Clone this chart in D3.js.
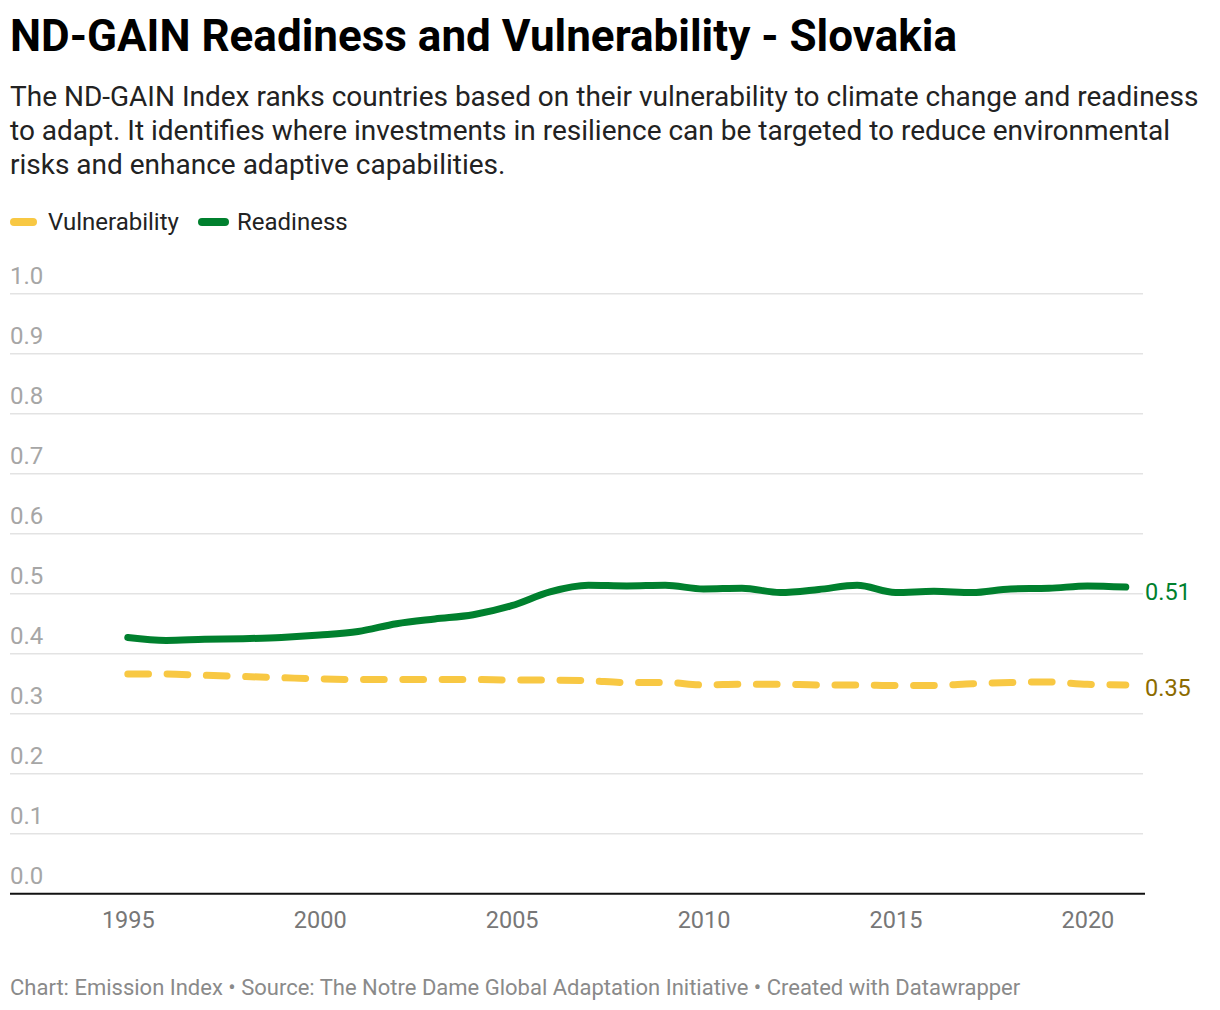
<!DOCTYPE html>
<html>
<head>
<meta charset="utf-8">
<script src="https://cdn.jsdelivr.net/npm/d3@7"></script>
<style>
  html, body { margin: 0; padding: 0; background: #fff; }
  svg { display: block; font-family: Roboto, "Noto Sans", sans-serif; }
</style>
</head>
<body>
<svg id="chart" width="1220" height="1010"></svg>
<script>
const years = [1995,1996,1997,1998,1999,2000,2001,2002,2003,2004,2005,2006,2007,2008,2009,2010,2011,2012,2013,2014,2015,2016,2017,2018,2019,2020,2021];
const readiness = [0.427,0.422,0.424,0.425,0.427,0.431,0.437,0.450,0.458,0.465,0.480,0.503,0.514,0.513,0.514,0.508,0.509,0.502,0.507,0.514,0.502,0.504,0.502,0.508,0.509,0.513,0.511];
const vulnerability = [0.366,0.366,0.364,0.362,0.360,0.358,0.357,0.357,0.357,0.357,0.356,0.356,0.355,0.352,0.352,0.348,0.349,0.349,0.348,0.348,0.347,0.347,0.350,0.352,0.353,0.349,0.348];
const yTicks = [0,0.1,0.2,0.3,0.4,0.5,0.6,0.7,0.8,0.9,1.0];
const xTicks = [1995,2000,2005,2010,2015,2020];
const seriesNames = ["Vulnerability","Readiness"];
const title = "ND-GAIN Readiness and Vulnerability - Slovakia";
const subtitleLines = [
  "The ND-GAIN Index ranks countries based on their vulnerability to climate change and readiness",
  "to adapt. It identifies where investments in resilience can be targeted to reduce environmental",
  "risks and enhance adaptive capabilities."
];
const footer = "Chart: Emission Index \u2022 Source: The Notre Dame Global Adaptation Initiative \u2022 Created with Datawrapper";

const GREEN = "#00802e", YELLOW = "#f8c843", YELLOW_TXT = "#8c6b00";
const svg = d3.select("#chart");

// Title & subtitle
svg.append("text").attr("x", 10).attr("y", 51)
  .attr("font-size", 44).attr("font-weight", 700).attr("fill", "#000").text(title);
svg.append("g").selectAll("text").data(subtitleLines).join("text")
  .attr("x", 10).attr("y", (d, i) => 106 + i * 34)
  .attr("font-size", 28).attr("fill", "#222").text(d => d);

// Legend
const legend = svg.append("g");
const legendItems = [
  {name: seriesNames[0], color: YELLOW, x: 10, w: 27, tx: 48},
  {name: seriesNames[1], color: GREEN, x: 198, w: 31, tx: 237}
];
legendItems.forEach(it => {
  legend.append("line").attr("x1", it.x + 4).attr("x2", it.x + it.w - 4)
    .attr("y1", 222).attr("y2", 222).attr("stroke", it.color)
    .attr("stroke-width", 8).attr("stroke-linecap", "round");
  legend.append("text").attr("x", it.tx).attr("y", 230)
    .attr("font-size", 24).attr("fill", "#222").text(it.name);
});

// Scales
const x = d3.scaleLinear().domain([1995, 2021]).range([127.8, 1125.8]);
const y = d3.scaleLinear().domain([0, 1]).range([893.7, 293.7]);

// Grid
const grid = svg.append("g");
grid.selectAll("line").data(yTicks.filter(d => d > 0)).join("line")
  .attr("x1", 10).attr("x2", 1143)
  .attr("y1", d => y(d)).attr("y2", d => y(d))
  .attr("stroke", "#e3e3e3").attr("stroke-width", 1.5);
grid.selectAll("text").data(yTicks).join("text")
  .attr("x", 10).attr("y", d => y(d) - 10)
  .attr("font-size", 24).attr("fill", "#a6a6a6")
  .text(d => d3.format(".1f")(d));

// X axis
const xAxis = d3.axisBottom(x).tickValues(xTicks).tickFormat(d3.format("d")).tickSize(0).tickPadding(18);
const gx = svg.append("g").attr("transform", `translate(0,${y(0)})`).call(xAxis);
gx.select(".domain").remove();
gx.selectAll("text").attr("font-size", 23.5).attr("fill", "#777").attr("font-family", "Roboto, sans-serif");
svg.append("line").attr("x1", 10).attr("x2", 1145).attr("y1", y(0)).attr("y2", y(0))
  .attr("stroke", "#111").attr("stroke-width", 2);

// Lines
const line = d3.line().x((d, i) => x(years[i])).y(d => y(d)).curve(d3.curveMonotoneX);
svg.append("path").datum(vulnerability).attr("d", line)
  .attr("fill", "none").attr("stroke", YELLOW).attr("stroke-width", 7)
  .attr("stroke-linecap", "round").attr("stroke-dasharray", "20.7,18.6");
svg.append("path").datum(readiness).attr("d", line)
  .attr("fill", "none").attr("stroke", GREEN).attr("stroke-width", 7)
  .attr("stroke-linecap", "round").attr("stroke-linejoin", "round");

// End labels
const last = years.length - 1;
svg.append("text").attr("x", 1145).attr("y", y(readiness[last]) + 13)
  .attr("font-size", 23.5).attr("fill", GREEN).text(d3.format(".2f")(readiness[last]));
svg.append("text").attr("x", 1145).attr("y", y(vulnerability[last]) + 11)
  .attr("font-size", 23.5).attr("fill", YELLOW_TXT).text(d3.format(".2f")(vulnerability[last]));

// Footer
svg.append("text").attr("x", 10).attr("y", 995)
  .attr("font-size", 22).attr("fill", "#8a8a8a").text(footer);
</script>
</body>
</html>
